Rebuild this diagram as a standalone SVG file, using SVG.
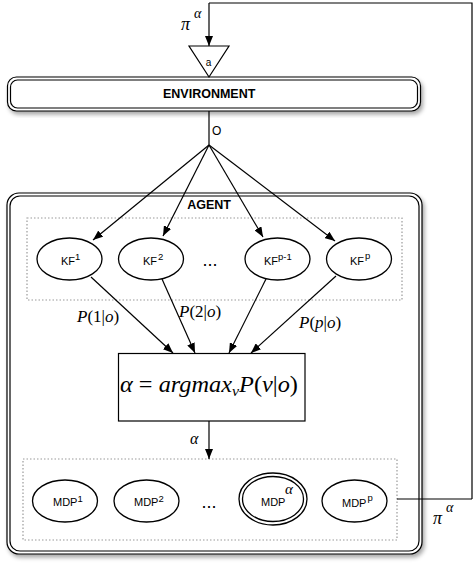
<svg xmlns="http://www.w3.org/2000/svg" width="474" height="565" viewBox="0 0 474 565">
<style>
.sans{font-family:"Liberation Sans",Arial,sans-serif;fill:#000}
.bold{font-weight:bold;font-size:12.5px}
.lbl{font-size:11px}
.sup{font-size:9.5px}
.math{font-family:"Liberation Serif","Times New Roman",serif;fill:#000}
.it{font-style:italic}
.box{fill:#fff;stroke:#000;stroke-width:1.2}
.inner{fill:none;stroke:#000;stroke-width:1.2}
.ell{fill:#fff;stroke:#000;stroke-width:1.3}
.dot{fill:none;stroke:#9a9a9a;stroke-width:1.2;stroke-dasharray:1.5 2}
.conn{fill:none;stroke:#000;stroke-width:1.2}
</style>
<defs>
<marker id="arr" markerWidth="10" markerHeight="8" refX="10" refY="4" orient="auto" markerUnits="userSpaceOnUse">
<path d="M0,0 L10,4 L0,8 z" fill="#000"/>
</marker>
<filter id="sh" x="-5%" y="-5%" width="115%" height="125%">
<feDropShadow dx="2" dy="3" stdDeviation="2" flood-color="#000" flood-opacity="0.35"/>
</filter>
</defs>
<rect width="474" height="565" fill="#fff"/>

<g id="environment">
<rect class="box" x="7.5" y="77" width="413" height="34" rx="9" filter="url(#sh)"/>
<rect class="inner" x="10.5" y="80" width="407" height="28" rx="7"/>
<text class="sans bold" x="163" y="98">ENVIRONMENT</text>
</g>

<g id="agent">
<rect class="box" x="7" y="193" width="415" height="361" rx="12" filter="url(#sh)"/>
<rect class="inner" x="10" y="196" width="409" height="355" rx="10"/>
<text class="sans bold" x="209" y="209" text-anchor="middle">AGENT</text>
</g>

<g id="action">
<polygon points="189,46 229,46 209,77" fill="#fff" stroke="#000" stroke-width="1.2"/>
<text class="sans" x="208.5" y="66" font-size="10" text-anchor="middle">a</text>
</g>

<g id="kf-group">
<rect class="dot" x="27" y="218" width="375" height="82"/>
</g>
<g id="kf1">
<ellipse class="ell" cx="69.5" cy="259" rx="32.5" ry="21"/>
<text class="sans lbl" x="61" y="265">KF<tspan class="sup" dy="-5">1</tspan></text>
</g>
<g id="kf2">
<ellipse class="ell" cx="151" cy="259" rx="32.5" ry="21"/>
<text class="sans lbl" x="143" y="265">KF<tspan class="sup" dy="-5" dx="1">2</tspan></text>
</g>
<text class="sans" x="210" y="266" font-size="18" text-anchor="middle">...</text>
<g id="kfp-1">
<ellipse class="ell" cx="277.5" cy="259" rx="32.5" ry="21"/>
<text class="sans lbl" x="264" y="265">KF<tspan class="sup" dy="-5">p-1</tspan></text>
</g>
<g id="kfp">
<ellipse class="ell" cx="359" cy="259" rx="32.5" ry="21"/>
<text class="sans lbl" x="350" y="265">KF<tspan class="sup" dy="-6" dx="1">p</tspan></text>
</g>

<g id="argmax">
<rect x="118.5" y="353.5" width="186.5" height="67.5" fill="#fff" stroke="#000" stroke-width="1.2"/>
<text class="math" x="120" y="392" font-size="23" textLength="178" lengthAdjust="spacingAndGlyphs"><tspan class="it">α</tspan> = <tspan class="it">argmax</tspan><tspan class="it" font-size="15" dy="4">v</tspan><tspan class="it" dy="-4">P</tspan>(<tspan class="it">v</tspan>|<tspan class="it">o</tspan>)</text>
</g>

<g id="mdp-group">
<rect class="dot" x="23" y="459" width="374" height="81"/>
</g>
<g id="mdp1">
<ellipse class="ell" cx="65" cy="501" rx="32.5" ry="21"/>
<text class="sans lbl" x="53" y="506">MDP<tspan class="sup" dy="-4">1</tspan></text>
</g>
<g id="mdp2">
<ellipse class="ell" cx="146.5" cy="501" rx="32.5" ry="21"/>
<text class="sans lbl" x="134" y="506">MDP<tspan class="sup" dy="-4">2</tspan></text>
</g>
<text class="sans" x="209" y="508" font-size="18" text-anchor="middle">...</text>
<g id="mdpalpha">
<ellipse class="ell" cx="273" cy="499" rx="34" ry="26"/>
<ellipse class="ell" cx="273" cy="499" rx="30.5" ry="22.5"/>
<text class="sans lbl" x="261" y="506">MDP</text>
<text class="math it" x="285" y="494" font-size="15">α</text>
</g>
<g id="mdpp">
<ellipse class="ell" cx="354.5" cy="501" rx="32.5" ry="21"/>
<text class="sans lbl" x="342" y="507">MDP<tspan class="sup" dy="-6" dx="1">p</tspan></text>
</g>

<g id="connectors">
<path class="conn" d="M397,499 H472" stroke-width="1.3"/>
<path class="conn" d="M472,499 V3 H209" stroke-width="2"/>
<path class="conn" d="M209,3 V46" marker-end="url(#arr)"/>
<path class="conn" d="M209,111 V145"/>
<path class="conn" d="M209,145 L93,240" marker-end="url(#arr)"/>
<path class="conn" d="M209,145 L163,236" marker-end="url(#arr)"/>
<path class="conn" d="M209,145 L263,237" marker-end="url(#arr)"/>
<path class="conn" d="M209,145 L335,241" marker-end="url(#arr)"/>
<path class="conn" d="M91,277 L173,353" marker-end="url(#arr)"/>
<path class="conn" d="M162,279 L195,353" marker-end="url(#arr)"/>
<path class="conn" d="M266,279 L229,353" marker-end="url(#arr)"/>
<path class="conn" d="M336,276 L251,353" marker-end="url(#arr)"/>
<path class="conn" d="M209,421 V459" marker-end="url(#arr)"/>
</g>

<g id="labels">
<text class="math" x="181" y="30" font-size="18"><tspan class="it">π</tspan></text>
<text class="math it" x="194" y="18" font-size="14">α</text>
<text class="sans" x="212" y="135" font-size="12">O</text>
<text class="math" x="77" y="322" font-size="17"><tspan class="it">P</tspan>(1|<tspan class="it">o</tspan>)</text>
<text class="math" x="179" y="317" font-size="17"><tspan class="it">P</tspan>(2|<tspan class="it">o</tspan>)</text>
<text class="math" x="299" y="328" font-size="17"><tspan class="it">P</tspan>(<tspan class="it">p</tspan>|<tspan class="it">o</tspan>)</text>
<text class="math it" x="190" y="444" font-size="16">α</text>
<text class="math" x="433" y="524" font-size="18"><tspan class="it">π</tspan></text>
<text class="math it" x="446" y="512" font-size="14">α</text>
</g>
</svg>
